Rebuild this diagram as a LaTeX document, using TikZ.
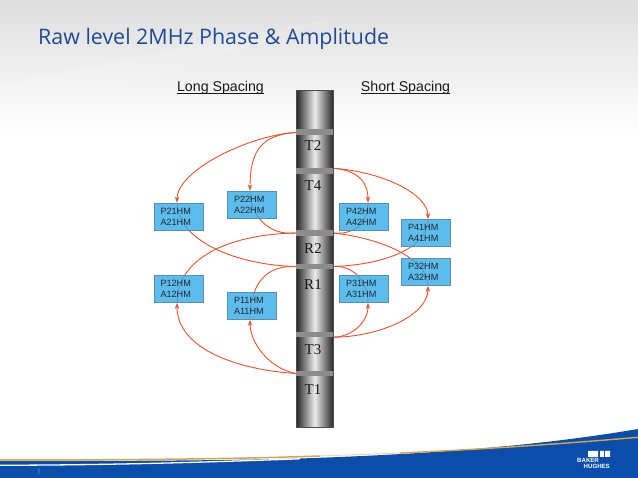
\documentclass[tikz,border=0pt]{standalone}
\usepackage{fontspec}
\setmainfont{Liberation Sans}
\newfontfamily\titlefont{Open Sans}
\newfontfamily\toolfont{Liberation Serif}
\usetikzlibrary{arrows.meta,backgrounds}
\definecolor{bhblue}{HTML}{0A4DAA}
\definecolor{titleblue}{HTML}{1F4A96}
\definecolor{boxblue}{HTML}{32ACEA}
\definecolor{boxedge}{HTML}{5F8FA8}
\definecolor{wire}{HTML}{E8532B}
\definecolor{bandgrey}{HTML}{8C8C8C}
\definecolor{bhgold}{HTML}{D9A441}
\tikzset{
  chan/.style={rectangle,draw=boxedge,fill=boxblue,fill opacity=0.8,text opacity=1,draw opacity=1,line width=0.8pt,
    minimum width=49,minimum height=27,text width=36,align=left,inner sep=0pt,font=\fontsize{9.1}{10.7}\selectfont,text=black!85},
  band/.style={rectangle,fill=bandgrey,minimum width=37,inner sep=0pt},
  wirearrow/.style={draw=wire,line width=0.9pt,-{Stealth[length=6,width=4.5]}},
  wireline/.style={draw=wire,line width=0.9pt},
  tname/.style={font=\toolfont\fontsize{15}{15}\selectfont,text=black!90},
  heading/.style={anchor=base,inner sep=0pt,font=\fontsize{14.2}{16}\selectfont,text=black!90},
  logotext/.style={inner sep=0pt,text=white,font=\bfseries\fontsize{6.1}{6.1}\selectfont}
}
\begin{document}
\begin{tikzpicture}[x=1pt,y=-1pt]
\useasboundingbox (0,0) rectangle (638,478);
\begin{pgfonlayer}{background}
        % slide background
        \fill[white] (0,0) rectangle (638,478);
        \shade[top color=black!15,middle color=black!7,bottom color=white] (0,-20) rectangle (638,135);
        \fill[white,opacity=0.15] (0,85) .. controls (120,60) and (240,35) .. (330,20) .. controls (240,50) and (120,90) .. (0,110) -- cycle;
        \fill[bhblue] (0,461) .. controls (150,461) and (220,460.5) .. (300,458.5) .. controls (400,455) and (520,449) .. (638,429) -- (638,478) -- (0,478) -- cycle;
        \draw[white,line width=1.3pt] (0,465.3) .. controls (80,465) and (160,464) .. (300,458.8);
        \draw[bhgold,line width=1.5pt] (0,460) .. controls (100,460) and (220,459.5) .. (320,456);
        \draw[bhgold!45!white,line width=1pt] (320,456) -- (400,453);
        \draw[bhgold,line width=1.4pt] (400,453) .. controls (480,449.5) and (560,444) .. (638,437.3);
\end{pgfonlayer}
        % tool body
        \draw (296,90) node[anchor=north west,minimum width=37,minimum height=337,inner sep=0pt,draw=black!70,line width=0.5pt,
              left color=black!85,right color=black!85,middle color=white!92!black] (tool) {};
        \draw (314.5,132.5) node[band,minimum height=6] (bt2) {};
        \draw (314.5,171.5) node[band,minimum height=6] (bt4) {};
        \draw (314.5,233) node[band,minimum height=6] (br2) {};
        \draw (314.5,266.5) node[band,minimum height=5] (br1) {};
        \draw (314.5,334.5) node[band,minimum height=5] (bt3) {};
        \draw (314.5,373.5) node[band,minimum height=5] (bt1) {};
        \node[tname] (t2) at (313,146) {T2};
        \node[tname] (t4) at (313,186) {T4};
        \node[tname] (r2) at (313,249) {R2};
        \node[tname] (r1) at (313,285) {R1};
        \node[tname] (t3) at (313,350) {T3};
        \node[tname] (t1) at (313,390) {T1};
        % channel boxes
        \draw (178.5,216.5) node[chan] (p21) {P21HM\\A21HM};
        \draw (252,204.5) node[chan] (p22) {P22HM\\A22HM};
        \draw (364,216.5) node[chan] (p42) {P42HM\\A42HM};
        \draw (426,233) node[chan] (p41) {P41HM\\A41HM};
        \draw (426,272) node[chan] (p32) {P32HM\\A32HM};
        \draw (364,289) node[chan] (p31) {P31HM\\A31HM};
        \draw (178.5,289) node[chan] (p12) {P12HM\\A12HM};
        \draw (252,306) node[chan] (p11) {P11HM\\A11HM};
        % headings
        \node[heading] (long) at (220.5,91.5) {\underline{\smash{Long Spacing}}};
        \node[heading] (short) at (405.5,91.5) {\underline{\smash{Short Spacing}}};
        \node[anchor=base west,font=\titlefont\fontsize{21.4}{24}\selectfont,text=titleblue,inner sep=0pt] (title) at (38,44.5) {Raw level 2MHz Phase \& Amplitude};
        % footer
        \node[text=bhblue!50!white,inner sep=0pt,font=\fontsize{7}{7}\selectfont] (pagebar) at (39,472) {|};
        \node[logotext,anchor=west] (baker) at (577,460.5) {BAKER};
        \node[logotext,anchor=east] (hughes) at (610,466) {HUGHES};
        \fill[white] (588,451) rectangle (598,457) (600,451) rectangle (604,457) (605,451) rectangle (610,457);
\begin{pgfonlayer}{background}
        % wires, transmitters
        \draw[wirearrow] (bt2.west) .. controls (250,135) and (177,170) .. ([xshift=-1.5]p21.north);
        \draw[wirearrow] (bt2.west) .. controls (262,135) and (250,150) .. ([xshift=-2]p22.north);
        \draw[wirearrow] (bt4.north east) .. controls (355,170) and (368,180) .. ([xshift=4]p42.north);
        \draw[wirearrow] (bt4.north east) .. controls (385,172) and (428,195) .. ([xshift=2]p41.north);
        \draw[wirearrow] (bt1.west) .. controls (240,370) and (177,350) .. ([xshift=-1.5]p12.south);
        \draw[wirearrow] (bt1.west) .. controls (268,368) and (250,342) .. ([xshift=-2]p11.south);
        \draw[wirearrow] (bt3.south east) .. controls (352,337) and (368,322) .. ([xshift=4]p31.south);
        \draw[wirearrow] (bt3.south east) .. controls (380,337) and (428,315) .. ([xshift=2]p32.south);
        % wires, receivers
        \draw[wireline] (br2.west) .. controls (268,236) and (250,215) .. ([xshift=-2]p22.north);
        \draw[wireline] (br1.west) .. controls (235,265) and (177,240) .. ([xshift=-1.5]p21.north);
        \draw[wireline] (br2.west) .. controls (235,234) and (177,255) .. ([xshift=-1.5]p12.south);
        \draw[wireline] (br1.west) .. controls (265,265) and (250,285) .. ([xshift=-2]p11.south);
        \draw[wireline] (br2.east) .. controls (352,235) and (368,225) .. ([xshift=4]p42.north);
        \draw[wireline] (br1.east) .. controls (380,265) and (428,250) .. ([xshift=2]p41.north);
        \draw[wireline] (br2.east) .. controls (380,238) and (428,258) .. ([xshift=2]p32.south);
        \draw[wireline] (br1.east) .. controls (352,265) and (368,280) .. ([xshift=4]p31.south);
\end{pgfonlayer}
\end{tikzpicture}
\end{document}
